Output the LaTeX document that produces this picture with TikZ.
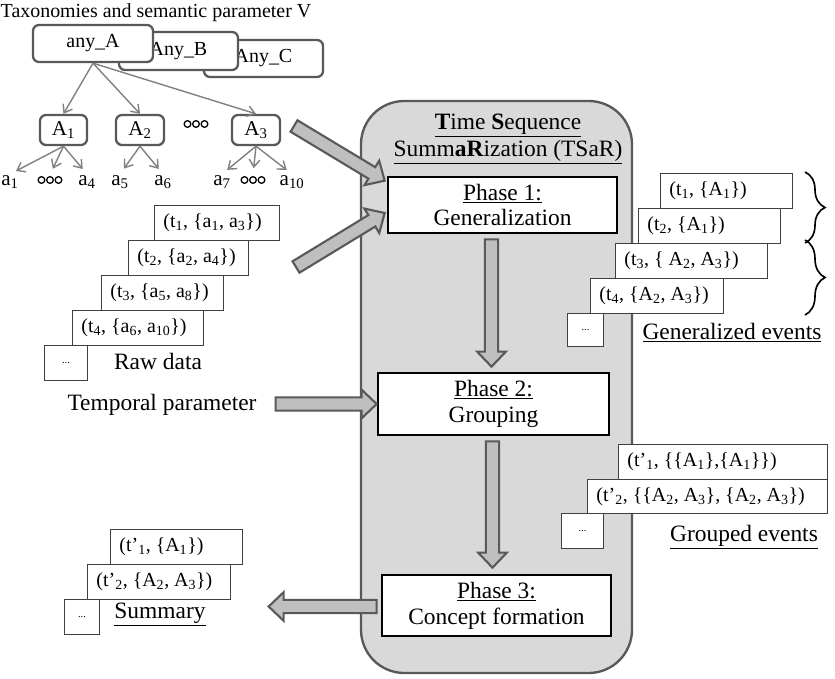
\documentclass[tikz,border=0pt]{standalone}
\usepackage{fontspec}
\setmainfont{Liberation Serif}
\usetikzlibrary{calc,arrows.meta,decorations.pathreplacing}

\definecolor{tsargray}{RGB}{217,217,217}
\definecolor{edgegray}{RGB}{89,89,89}
\definecolor{arrowgray}{RGB}{191,191,191}
\definecolor{treegray}{RGB}{128,128,128}

% block arrow from #1 to #2 (named coordinates)
\newcommand{\bigarrow}[2]{%
  \coordinate (bah) at ($(#2)!0.45cm!(#1)$);
  \draw[bigarrow] ($(#1)!0.2cm!90:(#2)$) -- ($(bah)!0.2cm!90:(#2)$) -- ($(bah)!0.43cm!90:(#2)$) -- (#2)
    -- ($(bah)!0.43cm!-90:(#2)$) -- ($(bah)!0.2cm!-90:(#2)$) -- ($(#1)!0.2cm!-90:(#2)$) -- cycle;
}
% left aligned event text in a box of fixed width
\newcommand{\evt}[2]{\makebox[#1][l]{#2}}

\begin{document}
\begin{tikzpicture}[x=0.03cm, y=-0.03cm, font=\fontsize{20}{22}\selectfont]
  \tikzset{taxbox/.style={draw=edgegray, line width=2pt, rounded corners=0.18cm, fill=white, inner sep=0pt}}
  \tikzset{treearrow/.style={treegray, line width=1.2pt, -{Straight Barb[length=0.22cm, width=0.32cm]}}}
  \tikzset{leaf/.style={inner sep=1pt, font=\fontsize{18}{20}\selectfont}}
  \tikzset{dotsnode/.style={minimum width=0.8cm, minimum height=0.3cm, inner sep=0pt}}
  \tikzset{evbox/.style={draw=black!75, line width=0.8pt, fill=white, anchor=north west, minimum height=1.05cm,
      inner xsep=0.27cm, inner ysep=0pt, font=\fontsize{17}{20}\selectfont}}
  \tikzset{dotbox/.style={draw=black!75, line width=0.8pt, fill=white, anchor=north west, minimum height=1.05cm,
      inner sep=0pt, font=\fontsize{9}{10}\selectfont}}
  \tikzset{phasebox/.style={draw=black, line width=2.3pt, fill=white, minimum width=6.87cm, align=center}}
  \tikzset{bigarrow/.style={draw=edgegray, fill=arrowgray, line width=1.8pt, line join=miter}}
  \tikzset{brace/.style={decorate, decoration={brace, amplitude=0.6cm}, line width=1.4pt}}
  \useasboundingbox (0,0) rectangle (835,679);

  % taxonomies
  \node[font=\fontsize{17}{20}\selectfont] (taxtitle) at (156,13) {Taxonomies and semantic parameter V};
  \node[taxbox, minimum width=3.57cm, minimum height=1.11cm, font=\fontsize{17}{20}\selectfont] (anyC) at (263.5,58.5) {Any\_C};
  \node[taxbox, minimum width=3.57cm, minimum height=1.14cm, font=\fontsize{17}{20}\selectfont] (anyB) at (178.5,51) {Any\_B};
  \node[taxbox, minimum width=3.6cm, minimum height=1.11cm, font=\fontsize{17}{20}\selectfont] (anyA) at (93,43.5) {any\_A};
  \node[taxbox, minimum width=1.41cm, minimum height=0.9cm, font=\fontsize{18}{20}\selectfont] (A1) at (63.5,130) {A\textsubscript{1}};
  \node[taxbox, minimum width=1.44cm, minimum height=0.9cm, font=\fontsize{18}{20}\selectfont] (A2) at (140,130) {A\textsubscript{2}};
  \node[taxbox, minimum width=1.44cm, minimum height=0.9cm, font=\fontsize{18}{20}\selectfont] (A3) at (256,130) {A\textsubscript{3}};
  \node[dotsnode] (d2) at (196,124) {};
  \foreach \a in {A1,A2,A3}
    \draw[treearrow] (anyA.south) -- (\a.north);

  \node[leaf] (a1) at (10,182) {a\textsubscript{1}};
  \node[dotsnode] (d1) at (50,180) {};
  \node[leaf] (a4) at (87,182) {a\textsubscript{4}};
  \node[leaf] (a5) at (120,182) {a\textsubscript{5}};
  \node[leaf] (a6) at (163,182) {a\textsubscript{6}};
  \node[leaf] (a7) at (222,182) {a\textsubscript{7}};
  \node[dotsnode] (d3) at (253,180) {};
  \node[leaf] (a10) at (292,182) {a\textsubscript{10}};
  \foreach \d in {d1,d2,d3}
    \foreach \k in {-8.5,0,8.5}
      \draw[line width=1.1pt] ($(\d)+(\k,0)$) circle[radius=0.1cm];
  \foreach \s/\t in {A1/a1, A1/d1, A1/a4, A2/a5, A2/a6, A3/a7, A3/d3, A3/a10}
    \draw[treearrow, shorten >=0.2cm] (\s.south) -- (\t.north);

  % raw data
  \node[evbox] (r1) at (154,205) {\evt{3.21cm}{(t\textsubscript{1}, \{a\textsubscript{1}, a\textsubscript{3}\})}};
  \node[evbox] (r2) at (128,240) {\evt{3.06cm}{(t\textsubscript{2}, \{a\textsubscript{2}, a\textsubscript{4}\})}};
  \node[evbox] (r3) at (101,275) {\evt{3.12cm}{(t\textsubscript{3}, \{a\textsubscript{5}, a\textsubscript{8}\})}};
  \node[evbox] (r4) at (72,310) {\evt{3.39cm}{(t\textsubscript{4}, \{a\textsubscript{6}, a\textsubscript{10}\})}};
  \node[dotbox, minimum width=1.29cm] (r5) at (44,345) {...};
  \node (rawlabel) at (158,361) {Raw data};
  \node (temporal) at (162,405) {Temporal parameter};

  % TSaR
  \node[draw=edgegray, fill=tsargray, line width=2pt, rounded corners=1.3cm, minimum width=8.13cm, minimum height=17.16cm] (tsar) at (496.5,387) {};
  \node[align=center, font=\fontsize{20}{23}\selectfont] (tsartitle) at (508,139)
    {\underline{\textbf{T}ime \textbf{S}equence}\\\underline{Summ\textbf{aR}ization (TSaR)}};
  \node[phasebox, minimum height=1.68cm] (ph1) at (502.5,205) {\underline{Phase 1:}\\Generalization};
  \node[phasebox, minimum width=6.93cm, minimum height=1.86cm] (ph2) at (493.5,404) {\underline{Phase 2:}\\Grouping};
  \node[phasebox, minimum height=1.83cm] (ph3) at (496.5,605.5) {\underline{Phase 3:}\\Concept formation};

  \coordinate (taxout) at (294,126);
  \coordinate (taxin) at ($(ph1.north west)+(-2,5)$);
  \coordinate (rawout) at (296,267);
  \coordinate (rawin) at ($(ph1.west)+(-2,8)$);
  \coordinate (p1out) at ($(ph2.north |- ph1.south)+(-2,5)$);
  \coordinate (p2in) at ($(ph2.north)+(-2,-5)$);
  \coordinate (p2out) at ($(ph2.south)+(-1,5)$);
  \coordinate (p3in) at ($(ph3.north -| p2out)+(0,-6)$);
  \coordinate (tempout) at ($(temporal.east)+(15,-1)$);
  \coordinate (tempin) at (tempout -| ph2.west);
  \coordinate (p3out) at ($(ph3.west)+(-4,1)$);
  \coordinate (sumin) at ($(ph3.west)+(-112,1)$);
  \bigarrow{taxout}{taxin}
  \bigarrow{rawout}{rawin}
  \bigarrow{p1out}{p2in}
  \bigarrow{p2out}{p3in}
  \bigarrow{tempout}{tempin}
  \bigarrow{p3out}{sumin}

  % generalized events
  \node[evbox] (g1) at (660,173) {\evt{3.42cm}{(t\textsubscript{1}, \{A\textsubscript{1}\})}};
  \node[evbox] (g2) at (638,208) {\evt{3.72cm}{(t\textsubscript{2}, \{A\textsubscript{1}\})}};
  \node[evbox] (g3) at (615,243) {\evt{4.02cm}{(t\textsubscript{3}, \{ A\textsubscript{2}, A\textsubscript{3}\})}};
  \node[evbox] (g4) at (590,278) {\evt{3.45cm}{(t\textsubscript{4}, \{A\textsubscript{2}, A\textsubscript{3}\})}};
  \node[dotbox, minimum width=1.08cm, minimum height=1cm] (g5) at (567,313) {...};
  \node (genlabel) at (732,333) {\underline{Generalized events}};
  \draw[brace] (805,172) -- (805,243);
  \draw[brace] (805,240) -- (805,315);

  % grouped events
  \node[evbox, minimum height=1.035cm] (gr1) at (618,444) {\evt{5.73cm}{(t'\textsubscript{1}, \{\{A\textsubscript{1}\},\{A\textsubscript{1}\}\})}};
  \node[evbox, minimum height=1.035cm] (gr2) at (587,478.5) {\evt{6.66cm}{(t'\textsubscript{2}, \{\{A\textsubscript{2}, A\textsubscript{3}\}, \{A\textsubscript{2}, A\textsubscript{3}\})}};
  \node[dotbox, minimum width=1.26cm, minimum height=1.035cm] (gr3) at (561,513) {...};
  \node (grplabel) at (744,537) {\underline{Grouped events}};

  % summary
  \node[evbox] (s1) at (110,529) {\evt{3.42cm}{(t'\textsubscript{1}, \{A\textsubscript{1}\})}};
  \node[evbox] (s2) at (87,564) {\evt{3.75cm}{(t'\textsubscript{2}, \{A\textsubscript{2}, A\textsubscript{3}\})}};
  \node[dotbox, minimum width=1.05cm] (s3) at (64,599) {...};
  \node (sumlabel) at (160,614) {\underline{Summary}};
\end{tikzpicture}
\end{document}
